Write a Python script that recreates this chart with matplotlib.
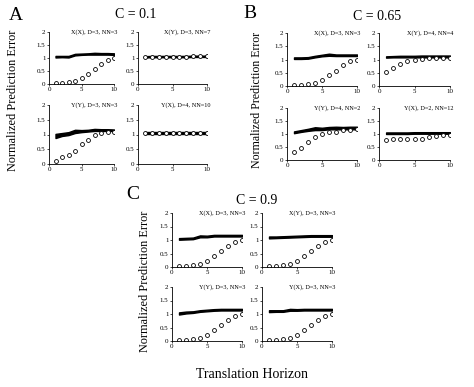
import numpy as np
import matplotlib
matplotlib.use("Agg")
import matplotlib.pyplot as plt

plt.rcParams['font.family'] = ['Liberation Serif', 'DejaVu Serif']

W, H = 474, 387
horizon = np.arange(1, 11)

# Panel A (C = 0.1)
A_labels = ["X(X), D=3, NN=3", "X(Y), D=3, NN=7", "Y(Y), D=3, NN=3", "Y(X), D=4, NN=10"]
A_circles = [
    [0.02, 0.05, 0.08, 0.12, 0.22, 0.40, 0.58, 0.78, 0.93, 1.00],
    [1.02, 1.03, 1.05, 1.04, 1.05, 1.03, 1.05, 1.07, 1.06, 1.07],
    [0.10, 0.25, 0.32, 0.45, 0.68, 0.82, 0.98, 1.05, 1.07, 1.10],
    [1.05, 1.05, 1.06, 1.05, 1.05, 1.05, 1.05, 1.05, 1.05, 1.06],
]
A_band_lo = [
    [1.02, 1.03, 1.02, 1.10, 1.12, 1.13, 1.13, 1.13, 1.13, 1.12],
    [1.02, 1.03, 1.03, 1.03, 1.03, 1.03, 1.03, 1.04, 1.04, 1.04],
    [0.88, 0.95, 0.98, 1.05, 1.08, 1.10, 1.12, 1.12, 1.12, 1.12],
    [1.02, 1.02, 1.02, 1.02, 1.02, 1.02, 1.02, 1.02, 1.02, 1.02],
]
A_band_hi = [
    [1.08, 1.08, 1.08, 1.16, 1.17, 1.18, 1.20, 1.19, 1.19, 1.18],
    [1.07, 1.08, 1.08, 1.08, 1.08, 1.08, 1.08, 1.09, 1.09, 1.09],
    [1.02, 1.05, 1.08, 1.16, 1.15, 1.16, 1.19, 1.18, 1.18, 1.17],
    [1.08, 1.08, 1.08, 1.08, 1.08, 1.08, 1.08, 1.08, 1.08, 1.08],
]

# Panel B (C = 0.65)
B_labels = ["X(X), D=3, NN=3", "X(Y), D=4, NN=4", "Y(Y), D=4, NN=2", "Y(X), D=2, NN=12"]
B_circles = [
    [0.03, 0.05, 0.08, 0.12, 0.22, 0.40, 0.58, 0.78, 0.93, 1.00],
    [0.52, 0.67, 0.83, 0.93, 1.00, 1.03, 1.05, 1.07, 1.05, 1.07],
    [0.32, 0.48, 0.70, 0.88, 1.00, 1.07, 1.08, 1.15, 1.15, 1.18],
    [0.78, 0.80, 0.80, 0.80, 0.80, 0.82, 0.87, 0.92, 0.95, 0.98],
]
B_band_lo = [
    [1.02, 1.02, 1.03, 1.08, 1.12, 1.14, 1.13, 1.13, 1.13, 1.13],
    [1.07, 1.08, 1.08, 1.08, 1.08, 1.08, 1.08, 1.08, 1.08, 1.08],
    [1.03, 1.08, 1.12, 1.15, 1.15, 1.18, 1.18, 1.18, 1.18, 1.18],
    [1.00, 1.00, 1.00, 1.00, 1.01, 1.01, 1.01, 1.01, 1.01, 1.01],
]
B_band_hi = [
    [1.08, 1.08, 1.09, 1.14, 1.18, 1.22, 1.19, 1.19, 1.19, 1.19],
    [1.12, 1.13, 1.14, 1.14, 1.14, 1.15, 1.15, 1.15, 1.15, 1.15],
    [1.10, 1.15, 1.20, 1.26, 1.24, 1.27, 1.28, 1.27, 1.28, 1.28],
    [1.06, 1.06, 1.06, 1.06, 1.07, 1.07, 1.07, 1.07, 1.07, 1.07],
]

# Panel C (C = 0.9)
C_labels = ["X(X), D=3, NN=3", "X(Y), D=3, NN=3", "Y(Y), D=3, NN=3", "Y(X), D=3, NN=3"]
C_circles = [
    [0.02, 0.05, 0.08, 0.12, 0.22, 0.40, 0.58, 0.78, 0.93, 1.00],
    [0.02, 0.05, 0.08, 0.12, 0.22, 0.40, 0.58, 0.78, 0.93, 1.00],
    [0.02, 0.05, 0.08, 0.12, 0.22, 0.40, 0.58, 0.78, 0.93, 1.00],
    [0.02, 0.05, 0.08, 0.12, 0.22, 0.40, 0.58, 0.78, 0.93, 1.00],
]
C_band_lo = [
    [1.01, 1.02, 1.03, 1.10, 1.10, 1.13, 1.13, 1.13, 1.13, 1.13],
    [1.06, 1.07, 1.08, 1.09, 1.10, 1.11, 1.12, 1.12, 1.12, 1.12],
    [0.98, 1.02, 1.04, 1.08, 1.10, 1.12, 1.13, 1.13, 1.13, 1.13],
    [1.07, 1.08, 1.08, 1.12, 1.12, 1.13, 1.13, 1.13, 1.13, 1.13],
]
C_band_hi = [
    [1.07, 1.08, 1.09, 1.17, 1.16, 1.19, 1.19, 1.19, 1.19, 1.19],
    [1.13, 1.13, 1.14, 1.15, 1.16, 1.17, 1.18, 1.18, 1.18, 1.18],
    [1.06, 1.09, 1.10, 1.14, 1.16, 1.18, 1.19, 1.19, 1.19, 1.19],
    [1.14, 1.14, 1.14, 1.19, 1.18, 1.19, 1.19, 1.19, 1.19, 1.19],
]

x_ticks = [0, 5, 10]
y_ticks = [0, 0.5, 1, 1.5, 2]
y_ticklabels = ["0", "0.5", "1", "1.5", "2"]

fig = plt.figure(figsize=(W / 100, H / 100), dpi=100)


def px_axes(L, R, T, B):
    return fig.add_axes([L / W, 1 - B / H, (R - L) / W, (B - T) / H])


def draw(ax, circ, lo, hi, label):
    ax.fill_between(horizon, lo, hi, color='black', lw=1.0, edgecolor='black')
    ax.plot(horizon, circ, 'o', mfc='white', mec='black', ms=2.8, mew=0.6)
    ax.set_xlim(0, 10)
    ax.set_ylim(0, 2)
    ax.set_xticks(x_ticks)
    ax.set_yticks(y_ticks)
    ax.set_yticklabels(y_ticklabels)
    for s in ['top', 'right']:
        ax.spines[s].set_visible(False)
    for s in ['left', 'bottom']:
        ax.spines[s].set_linewidth(0.6)
    ax.tick_params(labelsize=5, width=0.5, length=1.5, pad=1)
    ax.text(10.5, 2.0, label, ha='right', va='center', fontsize=4.5)
    ax.patch.set_alpha(0)


panels = [
    (A_labels, A_circles, A_band_lo, A_band_hi,
     [(49, 114, 32, 84), (138, 207, 32, 84), (49, 114, 105, 164), (138, 207, 105, 164)]),
    (B_labels, B_circles, B_band_lo, B_band_hi,
     [(287, 357, 33, 86), (379, 450, 33, 86), (287, 357, 108, 160), (379, 450, 108, 160)]),
    (C_labels, C_circles, C_band_lo, C_band_hi,
     [(172, 242, 213, 267), (262, 332, 213, 267), (172, 242, 287, 341), (262, 332, 287, 341)]),
]

for labels, circs, los, his, boxes in panels:
    for lab, c, lo, hi, box in zip(labels, circs, los, his, boxes):
        ax = px_axes(*box)
        draw(ax, c, lo, hi, lab)

def ftext(x, y, s, **kw):
    fig.text(x / W, 1 - y / H, s, **kw)

ftext(16, 15, "A", fontsize=14, ha='center', va='center')
ftext(250, 13, "B", fontsize=14, ha='center', va='center')
ftext(133, 194, "C", fontsize=14, ha='center', va='center')

ftext(136, 15, "C = 0.1", fontsize=10, ha='center', va='center')
ftext(377, 16, "C = 0.65", fontsize=10, ha='center', va='center')
ftext(257, 201, "C = 0.9", fontsize=10, ha='center', va='center')

ftext(13, 100, "Normalized Prediction Error", fontsize=8.8, rotation=90, ha='center', va='center')
ftext(257, 100, "Normalized Prediction Error", fontsize=8.6, rotation=90, ha='center', va='center')
ftext(145, 281, "Normalized Prediction Error", fontsize=8.8, rotation=90, ha='center', va='center')

ftext(252, 375, "Translation Horizon", fontsize=10, ha='center', va='center')

fig.savefig("out.png", dpi=100)
